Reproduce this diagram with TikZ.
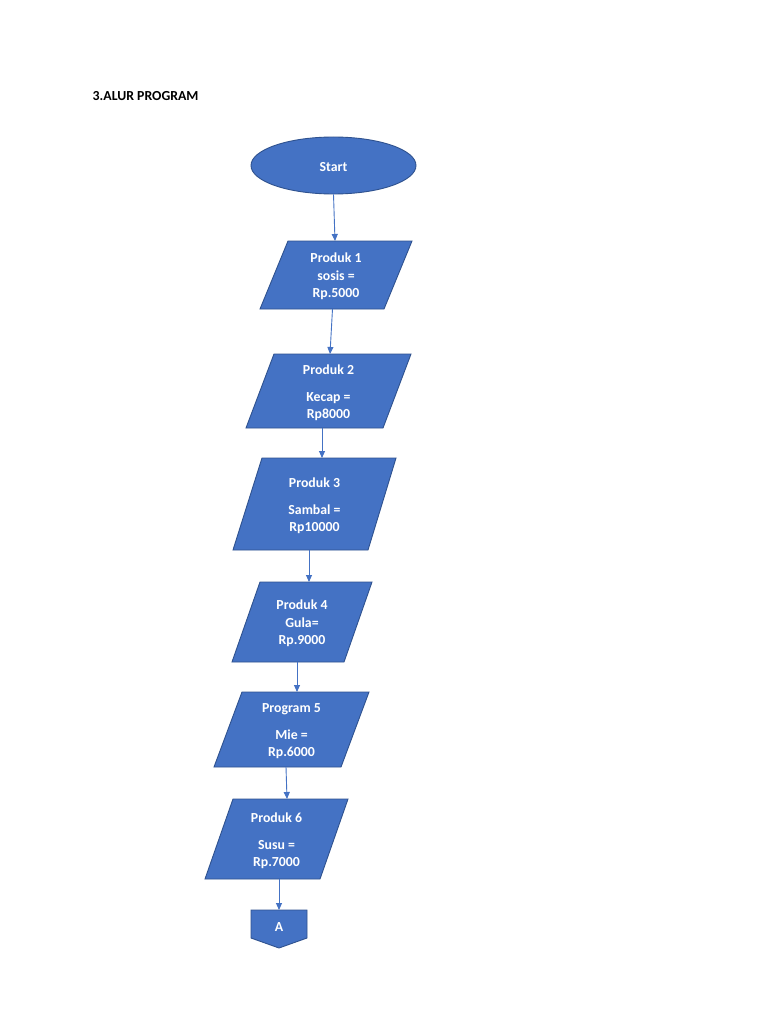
\documentclass[tikz,border=0pt]{standalone}
\usepackage{fontspec}
\setmainfont{Carlito}
\usetikzlibrary{arrows.meta,shapes.geometric}
\definecolor{fillblue}{HTML}{4472C4}
\definecolor{edgeblue}{HTML}{2F528F}
\tikzset{
  shapebox/.style={fill=fillblue, draw=edgeblue, line width=0.9pt},
  txt/.style={text=white, font=\bfseries\fontsize{13.8}{17.5}\selectfont, align=center, inner sep=0pt},
  flow/.style={draw=fillblue, line width=0.9pt, -{Triangle[length=7pt,width=6pt]}},
}
\begin{document}
\begin{tikzpicture}[x=1pt,y=-1pt]
\useasboundingbox[fill=white] (0,0) rectangle (768,1024);

\node[anchor=base west, inner sep=0pt, font=\bfseries\fontsize{13.8}{16}\selectfont] (title) at (92.5,100.7) {3.ALUR PROGRAM};

% Start
\node[shapebox, ellipse, minimum width=165pt, minimum height=57pt, inner sep=0pt] (start) at (333.5,165.5) {};
\node[txt] (starttxt) at (333.5,167) {Start};

% Produk 1
\path[shapebox] (288,241) -- (412,241) -- (384,309) -- (260,309) -- cycle;
\node[txt] (p1) at (336,276.5) {Produk 1\\sosis =\\Rp.5000};
\coordinate (p1t) at (335,241);
\coordinate (p1b) at (332.5,309);

% Produk 2
\path[shapebox] (274,354) -- (411,354) -- (383,428) -- (246,428) -- cycle;
\node[txt] (p2) at (328.5,392.5) {Produk 2\\[9.5pt]Kecap =\\Rp8000};
\coordinate (p2t) at (330,354);
\coordinate (p2b) at (322,428);

% Produk 3
\path[shapebox] (262,458) -- (396,458) -- (368,550) -- (233,550) -- cycle;
\node[txt] (p3) at (314.5,505.5) {Produk 3\\[9.5pt]Sambal =\\Rp10000};
\coordinate (p3t) at (322,458);
\coordinate (p3b) at (309,550);

% Produk 4
\path[shapebox] (260,582) -- (372,582) -- (344,662) -- (232,662) -- cycle;
\node[txt] (p4) at (302,623.5) {Produk 4\\Gula=\\Rp.9000};
\coordinate (p4t) at (309,582);
\coordinate (p4b) at (297,662);

% Program 5
\path[shapebox] (242,692) -- (369,692) -- (341,767) -- (214,767) -- cycle;
\node[txt] (p5) at (291.5,731) {Program 5\\[9.5pt]Mie =\\Rp.6000};
\coordinate (p5t) at (297,692);
\coordinate (p5b) at (286,767);

% Produk 6
\path[shapebox] (233,799) -- (348,799) -- (320,879) -- (205,879) -- cycle;
\node[txt] (p6) at (276.5,840.5) {Produk 6\\[9.5pt]Susu =\\Rp.7000};
\coordinate (p6t) at (287,799);
\coordinate (p6b) at (279,879);

% Off-page connector A
\path[shapebox] (251,910) -- (307,910) -- (307,938) -- (279,948) -- (251,938) -- cycle;
\node[txt] (a) at (279,927) {A};
\coordinate (at) at (279,910);

% connectors
\draw[flow] (start.south) -- (p1t);
\draw[flow] (p1b) -- (p2t);
\draw[flow] (p2b) -- (p3t);
\draw[flow] (p3b) -- (p4t);
\draw[flow] (p4b) -- (p5t);
\draw[flow] (p5b) -- (p6t);
\draw[flow] (p6b) -- (at);
\end{tikzpicture}
\end{document}
